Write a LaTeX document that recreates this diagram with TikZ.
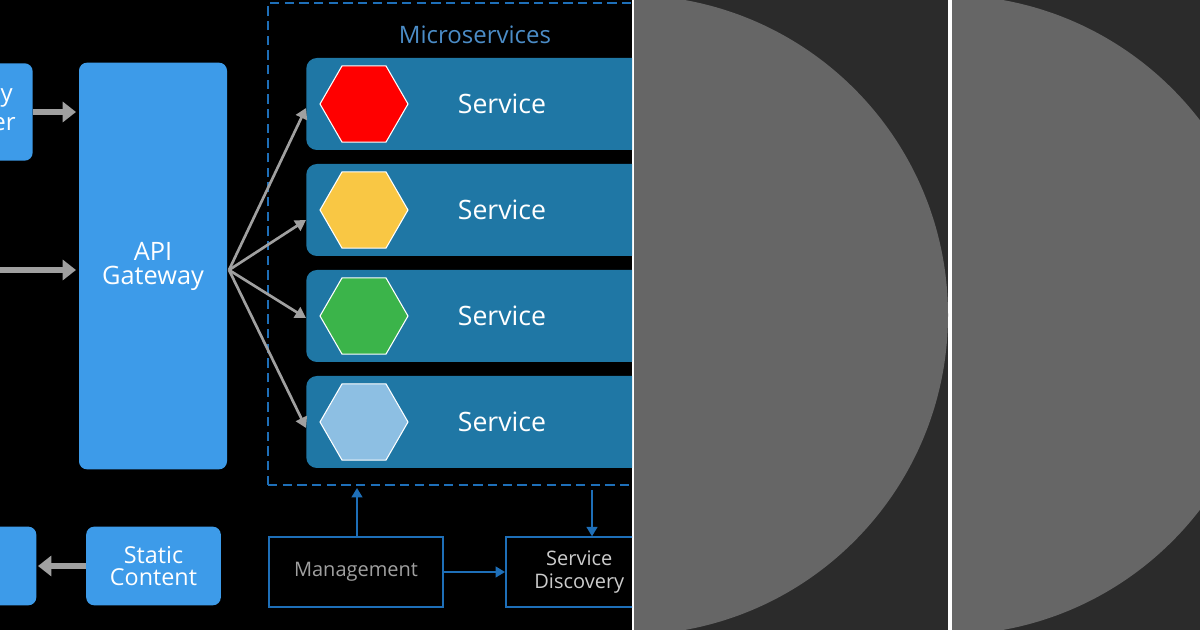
\documentclass[tikz,border=0pt]{standalone}
\usepackage{fontspec}
\setmainfont{Open Sans}
\usetikzlibrary{shapes.geometric,arrows.meta}
\definecolor{lblue}{HTML}{3D9BE9}
\definecolor{sblue}{HTML}{1F77A5}
\definecolor{dblue}{HTML}{1E6FB8}
\definecolor{agray}{HTML}{A0A0A0}
\tikzset{
 lbox/.style={fill=lblue,rounded corners=6pt,text=white,align=center,font=\fontsize{19}{21}\selectfont},
 svc/.style={fill=sblue,rounded corners=8pt},
 hexa/.style={regular polygon,regular polygon sides=6,minimum size=66pt,draw=white,line width=0.8pt,inner sep=0pt},
 garrow/.style={draw=agray,line width=4.5pt,-{Triangle[length=10pt,width=15pt]}},
 tarrow/.style={draw=agray,line width=2pt,-{Triangle[length=8pt,width=9pt]}},
 barrow/.style={draw=dblue,line width=1.5pt,-{Triangle[length=7pt,width=8pt]}},
 obox/.style={draw=dblue,line width=1.5pt,text=agray,align=center,font=\fontsize{15}{17}\selectfont},
}
\begin{document}
\begin{tikzpicture}[x=0.75pt,y=-0.75pt]
\useasboundingbox (0,0) rectangle (1200,630);
\fill[black] (0,0) rectangle (632,630);
\fill[white] (632,0) rectangle (1200,630);
\fill[black!83] (634,0) rectangle (948,630);
\fill[black!83] (952,0) rectangle (1200,630);
\begin{scope}
\clip (634,0) rectangle (948,630);
\fill[black!60] (628,315) circle[radius=320*0.75pt];
\end{scope}
\begin{scope}
\clip (952,0) rectangle (1200,630);
\fill[black!60] (946,315) circle[radius=320*0.75pt];
\end{scope}
\begin{scope}
\clip (0,0) rectangle (632,630);
% left partial boxes
\node[lbox,minimum width=40pt,minimum height=73pt] (idp) at (6,112) {};
\node[text=white,font=\fontsize{18}{20}\selectfont,anchor=east,inner sep=0pt] (idpt) at (13,98) {y};
\node[text=white,font=\fontsize{18}{20}\selectfont,anchor=east,inner sep=0pt] (idpt2) at (16,124) {er};
\node[lbox,minimum width=44pt,minimum height=59pt] (cdn) at (7,566) {};
\node[lbox,minimum width=111pt,minimum height=305pt] (gw) at (153,266) {API\\[-3pt]Gateway};
\node[lbox,minimum width=101pt,minimum height=59pt,font=\fontsize{17.5}{20}\selectfont] (sc) at (153.5,566) {Static\\[-3pt]Content};
\coordinate (lin) at (0,270);
\draw[garrow] (idp.east |- 0,112) -- (76,112);
\draw[garrow] (lin) -- (76,270);
\draw[garrow] (sc.west) -- (38,566);
% dashed box
\draw[dblue,line width=1.5pt,dash pattern=on 7pt off 4pt] (268,485) -- (268,3) -- (660,3);
\draw[dblue,line width=1.5pt,dash pattern=on 7pt off 4pt] (268,485) -- (640,485);
\node[text=dblue!80!white,font=\fontsize{18}{20}\selectfont] (ms) at (475,35) {Microservices};
\foreach \y/\c [count=\i] in {104/red,210/{rgb,255:red,249;green,199;blue,68},316/{rgb,255:red,59;green,180;blue,74},422/{rgb,255:red,141;green,191;blue,227}}{
 \node[svc,minimum width=300pt,minimum height=69pt,anchor=west] (s\i) at (306,\y) {};
 \node[hexa,fill={\c}] (h\i) at (364,\y) {};
 \node[text=white,font=\fontsize{20}{22}\selectfont] (t\i) at (502,\y) {Service};
}
\coordinate (gwo) at (229,270);
\draw[tarrow] (gwo) -- (306,108);
\draw[tarrow] (gwo) -- (306,220);
\draw[tarrow] (gwo) -- (306,318);
\draw[tarrow] (gwo) -- (306,428);
% bottom
\node[obox,minimum width=131pt,minimum height=52pt] (mg) at (356,572) {Management};
\node[obox,minimum width=110pt,minimum height=52pt,anchor=west,text=white!80!black] (sd) at (505,572) {Service\\Discovery};
\draw[barrow] (mg.north -| 357,0) -- (357,488);
\draw[barrow] (592,490) -- (sd.north -| 592,0);
\draw[barrow] (mg.east) -- (sd.west);
\end{scope}
\end{tikzpicture}
\end{document}
